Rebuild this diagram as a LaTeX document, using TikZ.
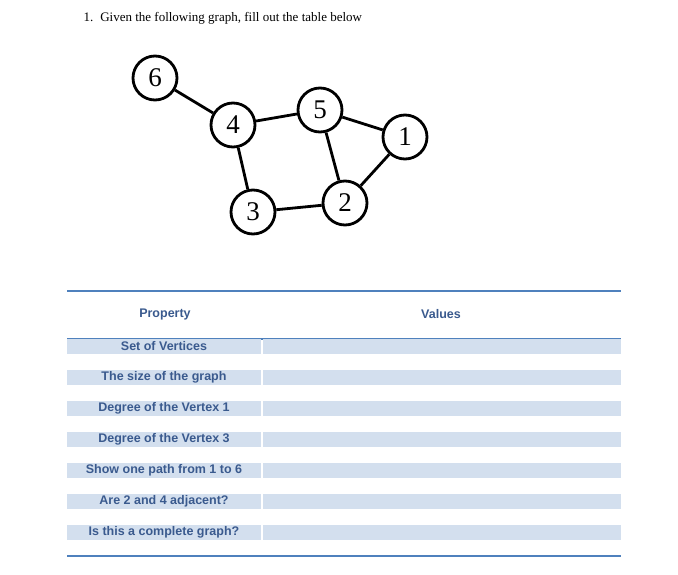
\documentclass[tikz,border=0pt]{standalone}
\usepackage{fontspec}
\setmainfont{Liberation Serif}
\newfontfamily\tabfont{Liberation Sans}
\definecolor{band}{HTML}{D3DFEE}
\definecolor{rule}{HTML}{4F81BD}
\definecolor{txt}{HTML}{3A5A8E}
\begin{document}
\begin{tikzpicture}[x=1pt,y=-1pt,
  vtx/.style={circle,draw,line width=2.8pt,minimum size=44pt,inner sep=0pt,font=\fontsize{27}{27}\selectfont},
  edge/.style={line width=2.8pt},
  lbl/.style={font=\tabfont\bfseries\fontsize{12.5}{13}\selectfont,text=txt}]
\useasboundingbox (0,0) rectangle (678,574);
\node[anchor=west,font=\fontsize{13}{14}\selectfont] (title) at (80,18) {1.\hspace{7pt}Given the following graph, fill out the table below};
\node[vtx] (v6) at (155,78) {6};
\node[vtx] (v4) at (233,125) {4};
\node[vtx] (v5) at (320,110) {5};
\node[vtx] (v1) at (405,137) {1};
\node[vtx] (v3) at (253,212) {3};
\node[vtx] (v2) at (345,203) {2};
\draw[edge] (v6)--(v4) (v4)--(v5) (v5)--(v1) (v5)--(v2) (v1)--(v2) (v4)--(v3) (v3)--(v2);
\draw[rule,line width=1.7pt] (67,291)--(621,291);
\draw[rule,line width=1.7pt] (67,339)--(621,339);
\draw[rule,line width=1.7pt] (67,556)--(621,556);
\node[lbl] (hp) at (165,314) {Property};
\node[lbl] (hv) at (441,314) {Values};
\foreach \y/\t [count=\i] in {346/Set of Vertices,377/The size of the graph,408/Degree of the Vertex 1,439/Degree of the Vertex 3,470/Show one path from 1 to 6,501/Are 2 and 4 adjacent?,532/Is this a complete graph?}{
  \fill[band] (67,\y-7.5) rectangle (261,\y+7.5);
  \fill[band] (263,\y-7.5) rectangle (621,\y+7.5);
  \node[lbl] (r\i) at (164,\y) {\t};
}
\end{tikzpicture}
\end{document}
